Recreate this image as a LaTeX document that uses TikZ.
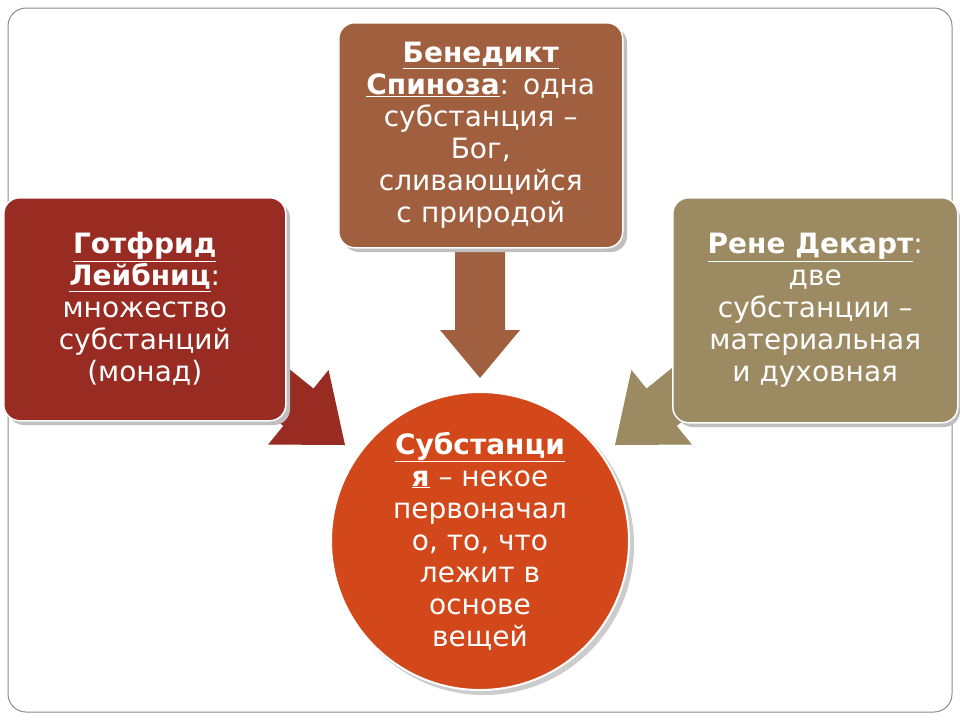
\documentclass[tikz,border=0pt]{standalone}
\usepackage{fontspec}
\setmainfont{DejaVu Sans}
\begin{document}
\begin{tikzpicture}[x=1pt,y=-1pt,
  box/.style={rounded corners=16pt,draw=white,line width=1.5pt,text=white,align=center,font=\fontsize{28}{32}\selectfont},
  shad/.style={fill=black!25,rounded corners=16pt}]
\useasboundingbox (0,0) rectangle (960,720);
\fill[white] (0,0) rectangle (960,720);
\draw[black!45,line width=1pt,rounded corners=18pt,fill=white] (8,8) rectangle (952,712);
\definecolor{cL}{HTML}{982B22}
\definecolor{cT}{HTML}{A0603F}
\definecolor{cR}{HTML}{9C8A63}
\definecolor{cC}{HTML}{D2481A}
% arrows
\fill[cT] (455,240) -- (505,240) -- (505,330) -- (520,330) -- (480,378) -- (440,330) -- (455,330) -- cycle;
\begin{scope}[shift={(345,445)},rotate=-39]
\fill[cL] (0,0) -- (-60,-48) -- (-60,-24) -- (-160,-24) -- (-160,24) -- (-60,24) -- (-60,48) -- cycle;
\end{scope}
\begin{scope}[shift={(615,445)},rotate=-141]
\fill[cR] (0,0) -- (-60,-48) -- (-60,-24) -- (-160,-24) -- (-160,24) -- (-60,24) -- (-60,48) -- cycle;
\end{scope}
% boxes
\fill[shad] (8,202) rectangle (290,425);
\node[box,fill=cL,minimum width=282pt,minimum height=223pt,anchor=north west] (L) at (3,197)
 {\textbf{\underline{Готфрид}}\\\textbf{\underline{Лейбниц}}:\\множество\\субстанций\\(монад)};
\fill[shad] (343,27) rectangle (627,252);
\node[box,fill=cT,minimum width=284pt,minimum height=225pt,anchor=north west,text width=270pt] (T) at (338,22)
 {\textbf{\underline{Бенедикт}}\\\textbf{\underline{Спиноза}}: одна\\субстанция –\\Бог,\\сливающийся\\с природой};
\fill[shad] (677,202) rectangle (960,427);
\node[box,fill=cR,minimum width=285pt,minimum height=225pt,anchor=north west] (R) at (672,197)
 {\textbf{\underline{Рене Декарт}}:\\две\\субстанции –\\материальная\\и духовная};
\fill[black!20] (484,545) circle (150);
\node[circle,fill=cC,draw=white,line width=2pt,minimum size=298pt,text=white,align=center,
 font=\fontsize{28}{32}\selectfont,inner sep=0pt] (C) at (480,541)
 {\textbf{\underline{Субстанци}}\\\textbf{\underline{я}} – некое\\первоначал\\о, то, что\\лежит в\\основе\\вещей};
\end{tikzpicture}
\end{document}
